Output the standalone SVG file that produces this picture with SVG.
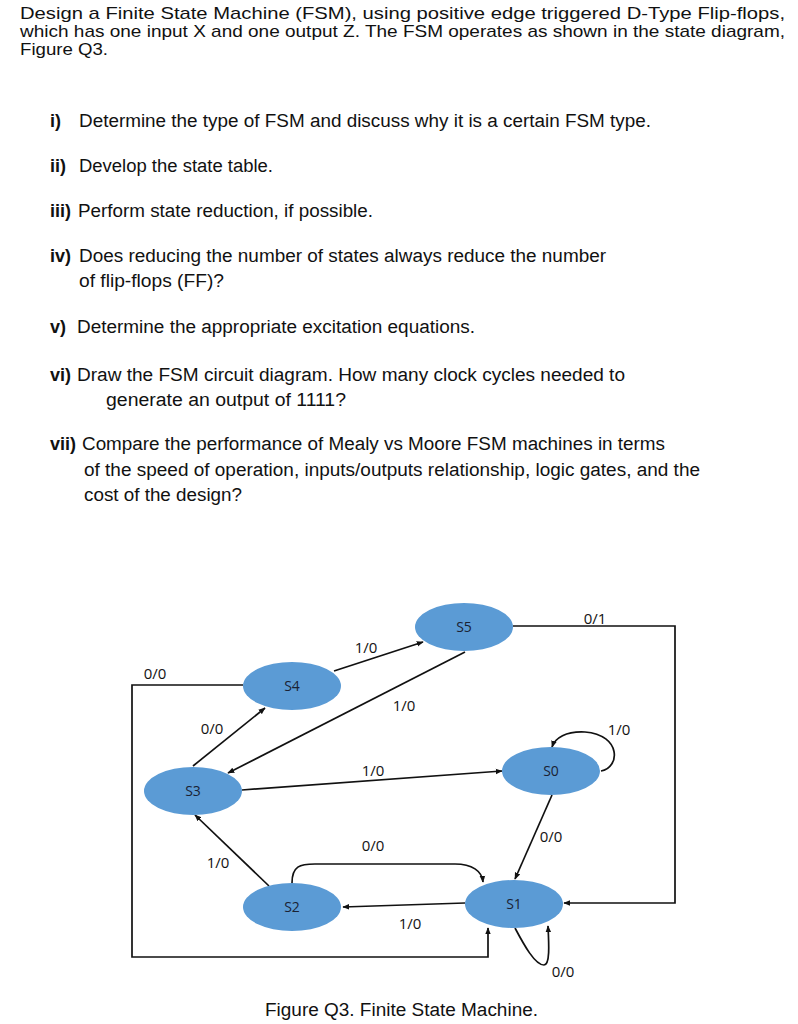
<svg xmlns="http://www.w3.org/2000/svg" width="798" height="1024" viewBox="0 0 798 1024">
<style>
.t{font-family:"Liberation Sans",Arial,sans-serif;font-size:17px;fill:#111}
.q{font-family:"Liberation Sans",Arial,sans-serif;font-size:18px;fill:#111}
.b{font-weight:bold}
.st{fill:#5b9bd5}
.sl{font-family:"Open Sans","Noto Sans",sans-serif;font-size:14px;fill:#1a2233;text-anchor:middle}
.el{font-family:"Open Sans","Noto Sans",sans-serif;font-size:15px;fill:#111;text-anchor:middle}
.c{fill:none;stroke:#111;stroke-width:1.7}
</style>
<defs>
<marker id="ah" viewBox="0 0 10 10" refX="9" refY="5" markerWidth="7" markerHeight="7" orient="auto" markerUnits="userSpaceOnUse">
<path d="M0,1 L10,5 L0,9 z" fill="#111"/>
</marker>
</defs>
<rect width="798" height="1024" fill="#fff"/>
<g id="title">
<text class="t" x="20" y="19" textLength="765" lengthAdjust="spacingAndGlyphs">Design a Finite State Machine (FSM), using positive edge triggered D-Type Flip-flops,</text>
<text class="t" x="20" y="37" textLength="765" lengthAdjust="spacingAndGlyphs">which has one input X and one output Z. The FSM operates as shown in the state diagram,</text>
<text class="t" x="20" y="55" textLength="88" lengthAdjust="spacingAndGlyphs">Figure Q3.</text>
</g>
<g id="questions">
<text class="q b" x="50" y="127">i)</text>
<text class="q" x="79" y="127" textLength="572" lengthAdjust="spacingAndGlyphs">Determine the type of FSM and discuss why it is a certain FSM type.</text>
<text class="q b" x="50" y="172">ii)</text>
<text class="q" x="79" y="172" textLength="194" lengthAdjust="spacingAndGlyphs">Develop the state table.</text>
<text class="q b" x="50" y="217">iii)</text>
<text class="q" x="78" y="217" textLength="295" lengthAdjust="spacingAndGlyphs">Perform state reduction, if possible.</text>
<text class="q b" x="50" y="262">iv)</text>
<text class="q" x="79" y="262" textLength="527" lengthAdjust="spacingAndGlyphs">Does reducing the number of states always reduce the number</text>
<text class="q" x="79" y="287" textLength="145" lengthAdjust="spacingAndGlyphs">of flip-flops (FF)?</text>
<text class="q b" x="50" y="333">v)</text>
<text class="q" x="77" y="333" textLength="398" lengthAdjust="spacingAndGlyphs">Determine the appropriate excitation equations.</text>
<text class="q b" x="50" y="381">vi)</text>
<text class="q" x="77" y="381" textLength="548" lengthAdjust="spacingAndGlyphs">Draw the FSM circuit diagram. How many clock cycles needed to</text>
<text class="q" x="106" y="406" textLength="240" lengthAdjust="spacingAndGlyphs">generate an output of 1111?</text>
<text class="q b" x="50" y="450">vii)</text>
<text class="q" x="82" y="450" textLength="583" lengthAdjust="spacingAndGlyphs">Compare the performance of Mealy vs Moore FSM machines in terms</text>
<text class="q" x="84" y="476" textLength="616" lengthAdjust="spacingAndGlyphs">of the speed of operation, inputs/outputs relationship, logic gates, and the</text>
<text class="q" x="84" y="501" textLength="158" lengthAdjust="spacingAndGlyphs">cost of the design?</text>
</g>
<g id="connectors">
<line class="c" x1="334" y1="671" x2="423" y2="642" marker-end="url(#ah)"/>
<line class="c" x1="465" y1="652" x2="228" y2="773" marker-end="url(#ah)"/>
<line class="c" x1="193" y1="766" x2="265" y2="708" marker-end="url(#ah)"/>
<line class="c" x1="242" y1="790" x2="502" y2="771" marker-end="url(#ah)"/>
<path class="c" d="M601,771 C620,768 622,735 585,732 C566,731 555,738 552,747" marker-end="url(#ah)"/>
<line class="c" x1="552" y1="795" x2="515" y2="879" marker-end="url(#ah)"/>
<polyline class="c" points="513,626 675,626 675,903 564,903" marker-end="url(#ah)"/>
<polyline class="c" points="243,685 132,685 132,957 488,957 488,928" marker-end="url(#ah)"/>
<line class="c" x1="465" y1="903" x2="343" y2="907" marker-end="url(#ah)"/>
<path class="c" d="M292,883 C292,866 300,864 315,864 L455,864 C472,864 482,871 483,882" marker-end="url(#ah)"/>
<line class="c" x1="269" y1="886" x2="195" y2="815" marker-end="url(#ah)"/>
<path class="c" d="M515,928 C524,945 535,965 544,965 C550,965 549,945 548,926" marker-end="url(#ah)"/>
</g>
<g id="labels">
<text class="el" x="595" y="624">0/1</text>
<text class="el" x="619" y="735">1/0</text>
<text class="el" x="366" y="653">1/0</text>
<text class="el" x="404" y="711">1/0</text>
<text class="el" x="212" y="734">0/0</text>
<text class="el" x="373" y="776">1/0</text>
<text class="el" x="155" y="679">0/0</text>
<text class="el" x="218" y="868">1/0</text>
<text class="el" x="373" y="851">0/0</text>
<text class="el" x="410" y="929">1/0</text>
<text class="el" x="551" y="842">0/0</text>
<text class="el" x="563" y="977">0/0</text>
</g>
<g id="S5"><ellipse class="st" cx="464" cy="627" rx="49" ry="24"/><text class="sl" x="464" y="632">S5</text></g>
<g id="S4"><ellipse class="st" cx="292" cy="686" rx="49" ry="24"/><text class="sl" x="292" y="691">S4</text></g>
<g id="S3"><ellipse class="st" cx="193" cy="791" rx="49" ry="24"/><text class="sl" x="193" y="796">S3</text></g>
<g id="S0"><ellipse class="st" cx="551" cy="771" rx="49" ry="24"/><text class="sl" x="551" y="776">S0</text></g>
<g id="S2"><ellipse class="st" cx="292" cy="907" rx="49" ry="24"/><text class="sl" x="292" y="912">S2</text></g>
<g id="S1"><ellipse class="st" cx="514" cy="904" rx="49" ry="24"/><text class="sl" x="514" y="909">S1</text></g>
<g id="caption">
<text class="q" x="265" y="1016" textLength="273" lengthAdjust="spacingAndGlyphs">Figure Q3. Finite State Machine.</text>
</g>
</svg>
